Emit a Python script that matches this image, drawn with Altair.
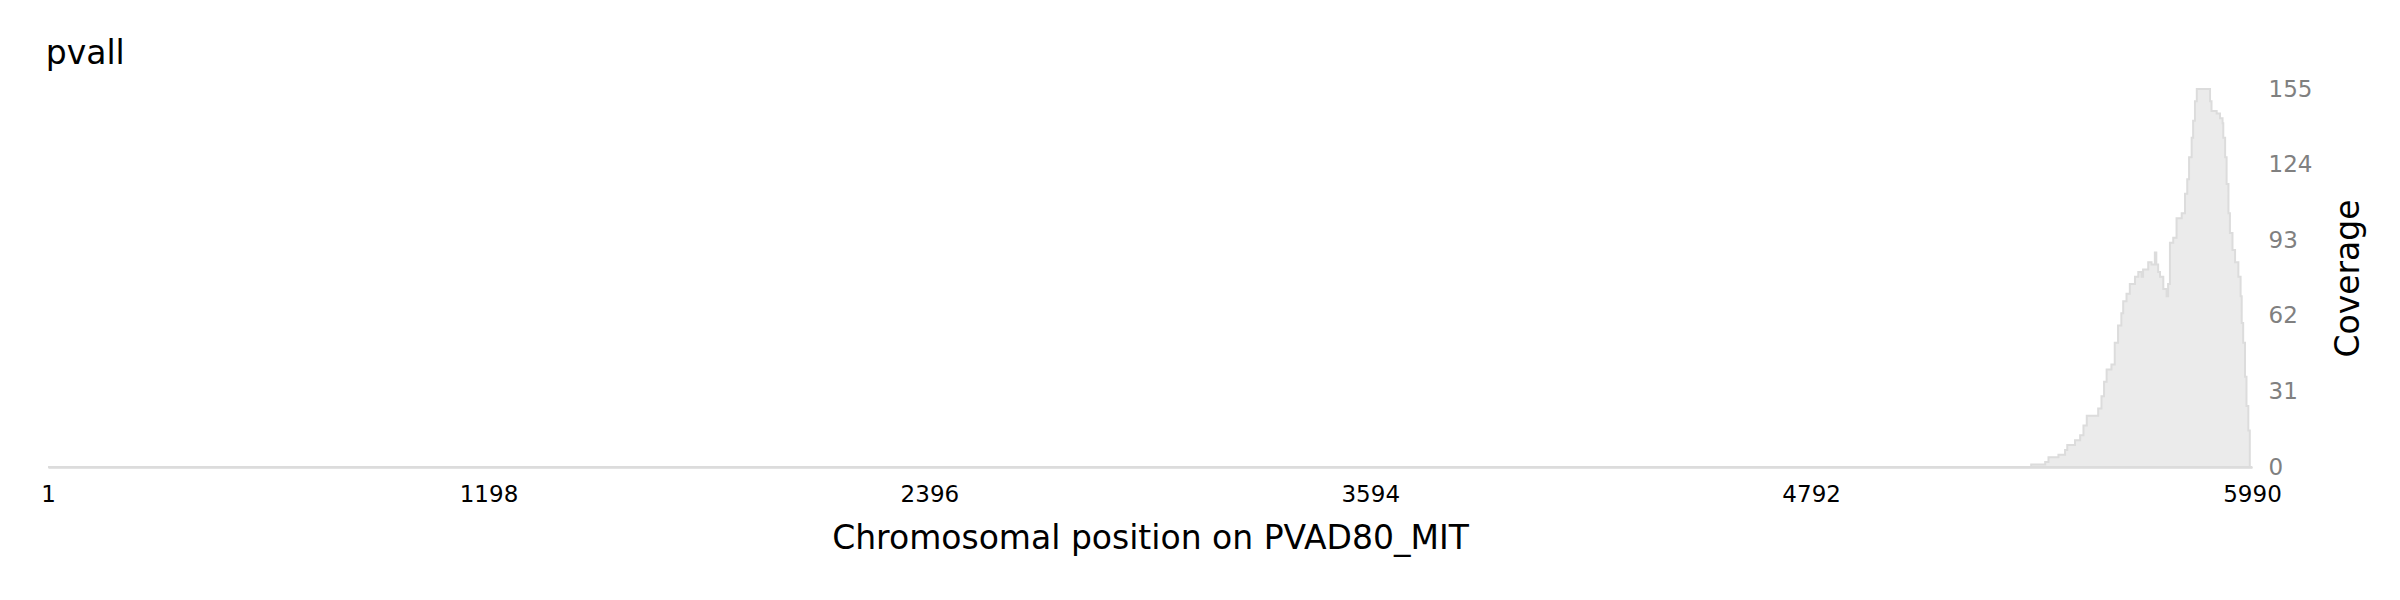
import altair as alt
import pandas as pd

# Coverage profile (position on PVAD80_MIT, coverage)
positions = [1, 5390, 5428, 5437, 5464, 5482, 5488, 5509, 5523, 5532, 5541, 5572, 5581,
             5588, 5595, 5608, 5617, 5626, 5635, 5640, 5649, 5658, 5672, 5681, 5690,
             5694, 5708, 5717, 5726, 5730, 5735, 5740, 5749, 5758, 5762, 5767, 5776,
             5785, 5799, 5808, 5814, 5819, 5826, 5830, 5835, 5840, 5876, 5880, 5894,
             5903, 5910, 5912, 5917, 5921, 5926, 5930, 5937, 5944, 5953, 5959, 5962,
             5966, 5971, 5975, 5980, 5984, 5990]
coverage = [0, 1, 2, 4, 5, 7, 9, 11, 13, 17, 21, 24, 29,
            35, 40, 42, 51, 58, 63, 68, 71, 75, 78, 80, 78,
            81, 84, 83, 88, 83, 80, 78, 73, 70, 75, 92, 94,
            102, 104, 112, 118, 127, 135, 142, 150, 155, 150, 146, 145,
            143, 141, 135, 127, 116, 104, 96, 89, 84, 78, 70, 59,
            51, 37, 25, 15, 0, 0]

x_ticks = [1, 1198, 2396, 3594, 4792, 5990]
y_ticks = [0, 31, 62, 93, 124, 155]

df = pd.DataFrame({"position": positions, "coverage": coverage})

FONT = "DejaVu Sans"

chart = (
    alt.Chart(df)
    .mark_area(
        interpolate="step-after",
        color="#ebebeb",
        stroke="#dcdcdc",
        strokeWidth=2,
    )
    .encode(
        x=alt.X(
            "position:Q",
            scale=alt.Scale(domain=[1, 5990], nice=False, zero=False),
            axis=alt.Axis(
                values=x_ticks,
                format="d",
                title="Chromosomal position on PVAD80_MIT",
                titleFont=FONT,
                titleFontSize=33,
                titleFontWeight="normal",
                titleColor="black",
                titlePadding=16,
                labelFont=FONT,
                labelFontSize=23,
                labelColor="black",
                labelPadding=16,
                labelFlush=False,
                labelOverlap=False,
                ticks=False,
                grid=False,
                domain=True,
                domainColor="#c8c8c8",
                domainWidth=2,
            ),
        ),
        y=alt.Y(
            "coverage:Q",
            scale=alt.Scale(domain=[0, 155], nice=False),
            axis=alt.Axis(
                orient="right",
                values=y_ticks,
                format="d",
                title="Coverage",
                titleFont=FONT,
                titleFontSize=33,
                titleFontWeight="normal",
                titleColor="black",
                titleAngle=270,
                titleBaseline="top",
                titlePadding=21,
                labelFont=FONT,
                labelFontSize=23,
                labelColor="#808080",
                labelPadding=16,
                labelOverlap=False,
                ticks=False,
                grid=False,
                domain=False,
            ),
        ),
    )
    .properties(
        width=2204,
        height=378,
        background="white",
        title=alt.Title(
            "pvall",
            anchor="start",
            font=FONT,
            fontSize=33,
            fontWeight="normal",
            color="black",
            offset=7,
            dx=5,
        ),
        autosize=alt.AutoSizeParams(type="none"),
        padding={"left": 40, "top": 81, "right": 140, "bottom": 125},
    )
    .configure_view(strokeWidth=0, stroke="transparent")
)

chart.save("out.html", embed_options={"renderer": "svg", "actions": False})
